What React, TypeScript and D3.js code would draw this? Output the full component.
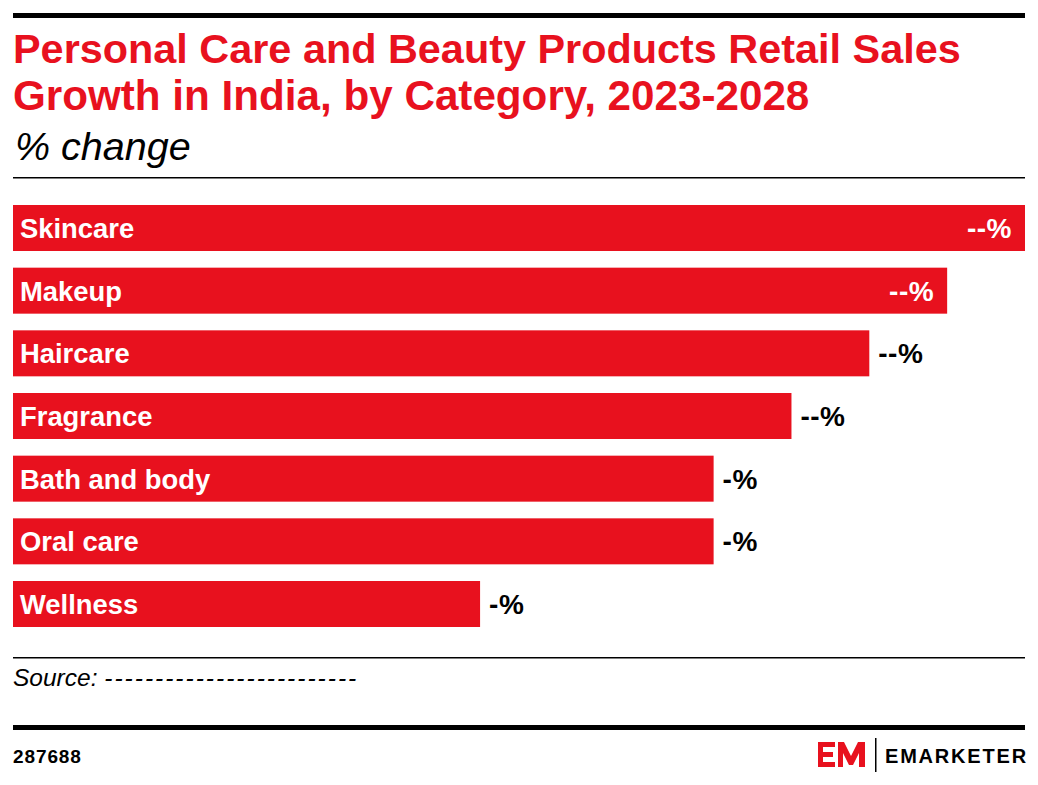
import React, { useRef, useEffect } from 'react';
import * as d3 from 'd3';

const categories = ['Skincare', 'Makeup', 'Haircare', 'Fragrance', 'Bath and body', 'Oral care', 'Wellness'];
const values = [13, 12, 11, 10, 9, 9, 6];
const valueLabels = ['--%', '--%', '--%', '--%', '-%', '-%', '-%'];

const titleLines = ['Personal Care and Beauty Products Retail Sales', 'Growth in India, by Category, 2023-2028'];
const subtitle = '% change';
const sourceLabel = 'Source:';
const sourceValue = '-------------------------';
const chartId = '287688';

const RED = '#e8111e';
const FONT = "'Liberation Sans', Arial, sans-serif";

function drawChart(svgEl: SVGSVGElement) {
  const width = 1038;
  const height = 785;
  const left = 13;
  const right = 1025;

  const svg = d3.select(svgEl);
  svg.selectAll('*').remove();

  svg.append('rect').attr('width', width).attr('height', height).attr('fill', '#fff');

  // top rule
  svg.append('rect').attr('x', left).attr('y', 13).attr('width', right - left).attr('height', 5).attr('fill', '#000');

  // title
  svg.append('g')
    .selectAll('text')
    .data(titleLines)
    .join('text')
    .attr('x', left)
    .attr('y', (d, i) => 63 + i * 47)
    .attr('font-family', FONT)
    .attr('font-weight', 'bold')
    .attr('font-size', (d, i) => i === 0 ? 41.4 : 42.2)
    .attr('fill', RED)
    .text(d => d);

  svg.append('text')
    .attr('x', 15)
    .attr('y', 160)
    .attr('font-family', FONT)
    .attr('font-style', 'italic')
    .attr('font-size', 39.5)
    .attr('fill', '#000')
    .text(subtitle);

  svg.append('rect').attr('x', left).attr('y', 177).attr('width', right - left).attr('height', 1.5).attr('fill', '#000');

  // scales
  const x = d3.scaleLinear().domain([0, d3.max(values) as number]).range([left, right]);
  const y = d3.scaleBand<string>().domain(categories).range([205, 627]).paddingInner(0.266).paddingOuter(0);

  const rows = svg.append('g')
    .selectAll('g')
    .data(categories)
    .join('g')
    .attr('transform', d => `translate(0, ${y(d)})`);

  rows.append('rect')
    .attr('x', x(0))
    .attr('width', (d, i) => x(values[i]) - x(0))
    .attr('height', y.bandwidth())
    .attr('fill', RED);

  rows.append('text')
    .attr('x', 20)
    .attr('y', y.bandwidth() / 2)
    .attr('dy', '0.36em')
    .attr('font-family', FONT)
    .attr('font-weight', 'bold')
    .attr('font-size', 27.4)
    .attr('fill', '#fff')
    .text(d => d);

  const inside = (i: number) => x(values[i]) > right - 100;

  rows.append('text')
    .attr('x', (d, i) => inside(i) ? x(values[i]) - 13 : x(values[i]) + 9)
    .attr('y', y.bandwidth() / 2)
    .attr('dy', '0.36em')
    .attr('text-anchor', (d, i) => inside(i) ? 'end' : 'start')
    .attr('font-family', FONT)
    .attr('font-weight', 'bold')
    .attr('font-size', 28)
    .attr('letter-spacing', 0.5)
    .attr('fill', (d, i) => inside(i) ? '#fff' : '#000')
    .text((d, i) => valueLabels[i]);

  // footer
  svg.append('rect').attr('x', left).attr('y', 657).attr('width', right - left).attr('height', 1.5).attr('fill', '#000');

  const source = svg.append('text')
    .attr('x', left)
    .attr('y', 686)
    .attr('font-family', FONT)
    .attr('font-style', 'italic')
    .attr('font-size', 24.5)
    .attr('fill', '#000');
  source.append('tspan').text(sourceLabel + ' ');
  source.append('tspan').attr('letter-spacing', 2).text(sourceValue);

  svg.append('rect').attr('x', left).attr('y', 725).attr('width', right - left).attr('height', 5).attr('fill', '#000');

  svg.append('text')
    .attr('x', left)
    .attr('y', 763)
    .attr('font-family', FONT)
    .attr('font-weight', 'bold')
    .attr('font-size', 19)
    .attr('letter-spacing', 0.9)
    .attr('fill', '#000')
    .text(chartId);

  // logo
  const logo = svg.append('g').attr('transform', 'translate(818, 742)');
  logo.append('path')
    .attr('d', 'M0,0 H17 V5 H5 V10 H15 V15 H5 V20 H17 V25 H0 Z')
    .attr('fill', RED);
  logo.append('path')
    .attr('d', 'M20,25 V0 H26 L33,14 L40,0 H47 V25 H41 V11 L35,23 H31 L25,11 V25 Z')
    .attr('fill', RED);
  svg.append('rect').attr('x', 875).attr('y', 738).attr('width', 1.5).attr('height', 34).attr('fill', '#000');
  svg.append('text')
    .attr('x', 885)
    .attr('y', 763)
    .attr('font-family', FONT)
    .attr('font-weight', 'bold')
    .attr('font-size', 20)
    .attr('letter-spacing', 1.8)
    .attr('fill', '#000')
    .text('EMARKETER');
}

export default function App() {
  const ref = useRef<SVGSVGElement>(null);

  useEffect(() => {
    if (ref.current) drawChart(ref.current);
  }, []);

  return (
    <svg
      ref={ref}
      width={1038}
      height={785}
      style={{ position: 'absolute', left: 0, top: 0, display: 'block' }}
    />
  );
}
